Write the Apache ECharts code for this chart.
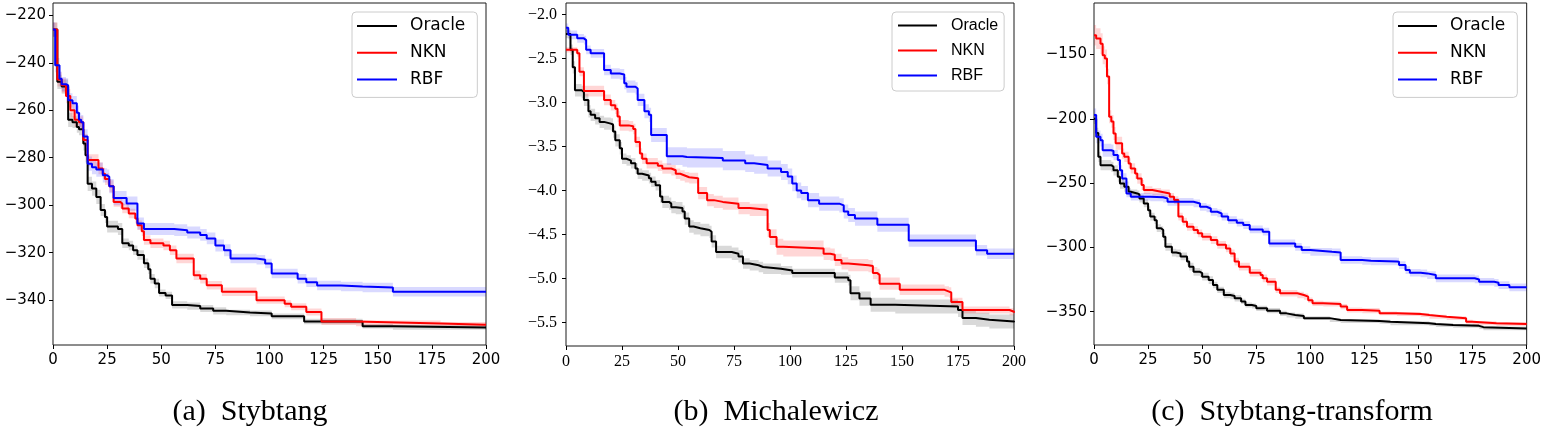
<!DOCTYPE html>
<html>
<head>
<meta charset="utf-8">
<script src="https://cdn.jsdelivr.net/npm/echarts@6/dist/echarts.min.js"></script>
<style>
html,body{margin:0;padding:0;background:#fff;}
#chart{width:1544px;height:430px;}
</style>
</head>
<body>
<div id="chart"></div>
<script>
// ---------- tick labels / categories ----------
const xTicks = [0, 25, 50, 75, 100, 125, 150, 175, 200];
const stybTicks = [-340, -320, -300, -280, -260, -240, -220];
const michTicks = [-5.5, -5.0, -4.5, -4.0, -3.5, -3.0, -2.5, -2.0];
const transTicks = [-350, -300, -250, -200, -150];
const seriesNames = ['Oracle', 'NKN', 'RBF'];
const captions = ['(a)  Stybtang', '(b)  Michalewicz', '(c)  Stybtang-transform'];

// ---------- data: [iteration, mean, half band width] (step-post) ----------
const stybOracle = [[0,-226,3],[2,-248,3],[4,-250,3],[7,-264,3],[9,-265,2.5],[11,-267,2.5],[12,-268,2.5],[14,-274,3],[15,-279,3],[16,-291,3],[18,-293,3],[20,-296.5,3],[22,-302,2.5],[24,-305,2.5],[25,-309,2.5],[30,-310,2.5],[32,-316,2],[35,-317,2],[37,-319,2],[39,-321,2],[42,-324.5,2],[44,-327,2],[45,-331,2],[47,-333,2],[49,-337,1.5],[52,-338,1.5],[55,-342,1.5],[62,-342.5,1.5],[68,-343.5,1.5],[74,-344.5,1.5],[80,-345.2,1.2],[91,-345.6,1.2],[101,-346.8,1.2],[116,-349,1.2],[143,-351,1],[157,-351.5,1],[200,-351.5,1]];
const stybNKN = [[0,-226,3],[2,-247,3],[4,-249.5,3],[6,-254,3],[8,-260,3],[10,-264,3],[12,-265,2.5],[14,-272.5,2.5],[16,-281,2.5],[21,-284.5,2.5],[23,-286.7,2.5],[24,-289,2.5],[26,-292,2.5],[28,-298.6,2],[31,-299.3,2],[32,-301.4,2],[35,-303.5,2],[38,-305.6,2],[39,-308.4,2],[41,-311,2],[42,-314.7,2],[45,-316,2],[51,-317,2],[54,-319,2],[57,-322.5,2],[65,-329.5,2],[68,-331,2],[71,-333.7,1.8],[78,-336.5,1.8],[94,-340,1.5],[107,-341.5,1.5],[110,-342.8,1.5],[117,-345,1.5],[124,-349,1.5],[140,-349.8,1.2],[179,-350.4,1.2],[200,-350.5,1.2]];
const stybRBF = [[0,-226,3],[1,-241,3],[3,-246.7,3],[4,-249,3],[6,-249.5,3],[7,-255.8,3],[9,-257,3],[11,-261,3],[12,-264,3],[13,-265,3],[14,-271,3],[16,-282.5,3],[18,-284,3],[20,-285,3],[23,-287.4,3],[25,-288,3],[26,-292,3],[28,-297,3],[34,-299.3,3],[39,-307.7,2.5],[42,-310,2.5],[56,-310.5,2.5],[62,-311.5,2.5],[68,-312.5,2.5],[71,-314,2.5],[75,-317,2.5],[79,-319,2.5],[82,-322.5,2],[94,-323,2],[98,-324.6,2],[101,-328.8,2],[113,-331,2],[117,-332.5,2],[122,-333.8,2],[133,-334.3,2],[143,-334.7,2],[157,-336.5,2],[200,-336.5,2]];

const michOracle = [[0,-2.22,0.05],[2,-2.4,0.06],[3,-2.6,0.07],[4,-2.86,0.07],[7,-2.88,0.07],[8,-2.97,0.07],[10,-3.1,0.07],[11,-3.14,0.07],[13,-3.18,0.07],[15,-3.22,0.07],[17,-3.24,0.07],[20,-3.25,0.07],[21,-3.33,0.07],[22,-3.43,0.07],[24,-3.52,0.07],[25,-3.64,0.06],[27,-3.66,0.06],[29,-3.69,0.06],[31,-3.75,0.06],[32,-3.81,0.06],[34,-3.83,0.06],[37,-3.86,0.06],[38,-3.9,0.06],[40,-3.94,0.06],[42,-4.07,0.07],[43,-4.13,0.07],[46,-4.15,0.07],[47,-4.19,0.07],[49,-4.2,0.07],[52,-4.24,0.07],[53,-4.32,0.07],[55,-4.41,0.07],[57,-4.43,0.07],[60,-4.45,0.07],[64,-4.47,0.07],[65,-4.58,0.07],[67,-4.7,0.07],[74,-4.72,0.07],[77,-4.75,0.07],[79,-4.83,0.06],[82,-4.85,0.06],[86,-4.87,0.06],[88,-4.89,0.06],[96,-4.91,0.05],[101,-4.94,0.05],[120,-4.99,0.06],[126,-5.02,0.06],[127,-5.17,0.08],[131,-5.23,0.08],[136,-5.3,0.08],[147,-5.32,0.08],[175,-5.36,0.08],[177,-5.45,0.08],[183,-5.47,0.08],[189,-5.49,0.08],[200,-5.5,0.08]];
const michNKN = [[0,-2.4,0.03],[5,-2.44,0.04],[6,-2.65,0.05],[8,-2.87,0.06],[17,-2.97,0.06],[20,-3.03,0.06],[22,-3.07,0.06],[23,-3.16,0.06],[24,-3.26,0.06],[28,-3.27,0.06],[30,-3.3,0.06],[31,-3.45,0.06],[33,-3.58,0.06],[34,-3.64,0.06],[36,-3.69,0.06],[41,-3.72,0.06],[43,-3.75,0.06],[47,-3.77,0.06],[49,-3.81,0.06],[51,-3.83,0.06],[53,-3.85,0.06],[55,-3.86,0.06],[59,-4.03,0.07],[63,-4.11,0.07],[66,-4.13,0.07],[70,-4.15,0.07],[77,-4.2,0.07],[82,-4.22,0.07],[90,-4.45,0.08],[91,-4.53,0.09],[94,-4.64,0.09],[97,-4.66,0.09],[115,-4.72,0.07],[118,-4.73,0.07],[120,-4.79,0.07],[123,-4.83,0.07],[126,-4.85,0.07],[135,-4.86,0.07],[137,-4.94,0.07],[139,-4.96,0.07],[140,-5.06,0.07],[149,-5.13,0.06],[169,-5.15,0.06],[171,-5.16,0.06],[172,-5.27,0.05],[177,-5.36,0.04],[198,-5.38,0.04],[200,-5.39,0.04]];
const michRBF = [[0,-2.15,0.05],[1,-2.23,0.05],[5,-2.27,0.05],[8,-2.29,0.05],[9,-2.4,0.05],[11,-2.44,0.05],[17,-2.63,0.06],[20,-2.67,0.06],[24,-2.68,0.06],[26,-2.78,0.07],[27,-2.82,0.07],[31,-2.84,0.07],[32,-2.97,0.07],[35,-3.1,0.08],[37,-3.14,0.08],[38,-3.37,0.08],[45,-3.61,0.1],[52,-3.62,0.11],[54,-3.63,0.11],[70,-3.66,0.11],[80,-3.69,0.1],[84,-3.71,0.1],[90,-3.75,0.09],[96,-3.79,0.09],[99,-3.84,0.09],[101,-3.92,0.09],[103,-4.0,0.09],[105,-4.03,0.08],[108,-4.11,0.08],[113,-4.15,0.08],[122,-4.17,0.08],[124,-4.24,0.08],[126,-4.28,0.08],[129,-4.32,0.08],[139,-4.39,0.08],[153,-4.57,0.07],[183,-4.68,0.06],[188,-4.72,0.06],[200,-4.72,0.06]];

const transOracle = [[0,-200,4],[1,-211,4],[2,-229.5,4],[3,-236,4],[8,-237.3,4],[9,-240,4],[11,-245,4],[12,-250.3,4],[14,-252.8,4],[16,-256.7,3],[17,-258,3],[20,-258.8,3],[21,-262,3],[23,-265.8,3],[25,-271,3],[26,-276,3],[28,-278.8,3],[29,-285,3],[31,-286.5,3],[32,-291.7,3],[33,-299.5,3],[36,-304,3],[38,-304.7,3],[40,-307,3],[43,-311,3],[44,-315,3],[46,-319,3],[49,-320,3],[50,-322.8,3],[53,-325.4,3],[55,-329.3,2.5],[57,-333,2.5],[60,-337,2.5],[63,-337.8,2.5],[65,-339.6,2.5],[68,-342,2],[70,-344.8,2],[73,-345.6,2],[75,-347.4,2],[80,-349.2,2],[86,-351.3,2],[89,-352.6,2],[93,-353.4,2],[97,-355,1.5],[109,-356.5,1.5],[114,-357.3,1.5],[132,-357.8,1.5],[137,-359,1.5],[155,-359.6,1.5],[158,-360.4,1.5],[166,-361,1.5],[178,-362,1.5],[180,-363,1.5],[200,-363.5,1.5]];
const transNKN = [[0,-135,8],[1,-137.6,8],[3,-141.5,8],[4,-150.5,7],[5,-153,7],[6,-167,6],[7,-198.4,5],[8,-202,5],[9,-211.4,5],[10,-219,5],[13,-227,4],[14,-229.5,4],[16,-234.7,4],[17,-238.6,4],[19,-242.5,4],[20,-246.4,4],[22,-251.5,4],[23,-255.4,3],[27,-256.7,3],[31,-258,3],[35,-260.6,3],[37,-263.2,3],[39,-276,3],[41,-280,3],[43,-284,3],[46,-286.5,3],[48,-289,3],[50,-291.7,3],[54,-294.3,3],[57,-298,3],[61,-300.8,3],[63,-304.7,3],[65,-311,3],[67,-315,3],[72,-319.7,3],[77,-321.5,3],[78,-324,3],[80,-326.7,3],[84,-333,2.5],[86,-335.7,2.5],[94,-337,2.5],[97,-338.3,2.5],[99,-341,2],[101,-343.5,2],[106,-344,2],[114,-346,2],[117,-348.7,2],[124,-349.2,2],[132,-351.3,1.5],[140,-351.8,1.5],[151,-352.6,1.5],[155,-353.9,1.5],[163,-355,1.5],[172,-357.8,1.5],[175,-359,1.5],[186,-359.6,1.5],[200,-360,1.5]];
const transRBF = [[0,-197,5],[1,-214,5],[3,-216.6,5],[4,-224.4,5],[8,-225,5],[9,-228.2,4],[11,-232,4],[12,-240,4],[13,-246.4,4],[15,-258,3],[17,-260.6,3],[26,-261,3],[32,-262,3],[34,-264.5,3],[46,-265.8,3],[49,-268.4,3],[52,-269.7,3],[54,-272.3,3],[57,-273.6,3],[59,-276,3],[62,-278.8,3],[66,-280.8,3],[69,-282.6,3],[72,-286,3],[78,-287.8,3],[81,-296.9,3],[93,-299.5,3],[96,-302,3],[100,-303.4,3],[110,-303.9,3],[114,-309.8,3],[124,-310.4,3],[128,-310.9,3],[140,-311.1,3],[141,-313.7,3],[144,-317.6,3],[146,-319.7,3],[151,-320.2,3],[154,-321.5,3],[158,-324,3],[176,-324.9,3],[178,-326.7,3],[185,-327.5,3],[187,-329.3,3],[192,-331,3],[200,-331.5,3]];

// ---------- styling / layout ----------
const lineColors = ['#000000', '#ff0000', '#0000ff'];
const bandColors = ['rgba(0,0,0,0.15)', 'rgba(255,0,0,0.16)', 'rgba(0,0,255,0.15)'];
const panels = [
  {data: [stybOracle, stybNKN, stybRBF], ticks: stybTicks, min: -358.9, max: -214.8, dec: 0,
   grid: {left: 53, top: 3, width: 433, height: 342}, font: 'DejaVu Sans', fsize: 15, ymargin: 7, xmargin: 8,
   legend: {left: 352, top: 12, font: 'DejaVu Sans', fsize: 17, lh: 20, gap: 6.7, padding: [4, 12, 8, 5], iw: 40, tp: 8},
   cap: {x: 250, y: 412}},
  {data: [michOracle, michNKN, michRBF], ticks: michTicks, min: -5.769, max: -1.868, dec: 1,
   grid: {left: 566, top: 3, width: 448, height: 343}, font: 'Liberation Serif', fsize: 16, ymargin: 9, xmargin: 8,
   legend: {left: 892, top: 12, font: 'Liberation Sans', fsize: 16, lh: 19, gap: 6, padding: [4, 6, 6, 6], iw: 39, tp: 9},
   cap: {x: 776, y: 412}},
  {data: [transOracle, transNKN, transRBF], ticks: transTicks, min: -375.9, max: -109.9, dec: 0,
   grid: {left: 1094, top: 3, width: 433, height: 342}, font: 'DejaVu Sans', fsize: 15, ymargin: 7, xmargin: 8,
   legend: {left: 1393, top: 12, font: 'DejaVu Sans', fsize: 17, lh: 20, gap: 6.7, padding: [4, 12, 8, 5], iw: 39, tp: 8},
   cap: {x: 1292, y: 412}}
];

const fmt = (v, dec) => (dec ? Number(v).toFixed(dec) : String(v)).replace('-', '\u2212');

function bandSeries(gi, pts, fill) {
  return {
    type: 'custom', xAxisIndex: gi, yAxisIndex: gi, silent: true, z: 1, clip: true,
    data: [[pts[0][0], pts[0][1]]],
    renderItem: function (params, api) {
      const up = [], lo = [];
      for (let i = 0; i < pts.length; i++) {
        const x0 = pts[i][0];
        const x1 = i + 1 < pts.length ? pts[i + 1][0] : pts[i][0];
        const yu = pts[i][1] + pts[i][2], yl = pts[i][1] - pts[i][2];
        up.push(api.coord([x0, yu]), api.coord([x1, yu]));
        lo.push(api.coord([x0, yl]), api.coord([x1, yl]));
      }
      return {type: 'polygon', shape: {points: up.concat(lo.reverse())}, style: {fill: fill}};
    }
  };
}

const grids = [], xAxes = [], yAxes = [], series = [], legends = [], graphics = [];
panels.forEach((p, gi) => {
  grids.push(Object.assign({show: true, borderColor: '#1a1a1a', borderWidth: 1, backgroundColor: 'transparent'}, p.grid));
  const lab = {fontFamily: p.font, fontSize: p.fsize, color: '#000'};
  xAxes.push({
    type: 'value', gridIndex: gi, min: 0, max: 200, interval: 25,
    axisLine: {show: false},
    axisTick: {show: true, length: 4, customValues: xTicks, lineStyle: {color: '#000', width: 1}},
    axisLabel: Object.assign({margin: p.xmargin, customValues: xTicks, formatter: v => fmt(v, 0)}, lab),
    splitLine: {show: false}
  });
  yAxes.push({
    type: 'value', gridIndex: gi, min: p.min, max: p.max,
    axisLine: {show: false},
    axisTick: {show: true, length: 4, customValues: p.ticks, lineStyle: {color: '#000', width: 1}},
    axisLabel: Object.assign({margin: p.ymargin, customValues: p.ticks, formatter: v => fmt(v, p.dec)}, lab),
    splitLine: {show: false}
  });
  p.data.forEach((pts, si) => series.push(bandSeries(gi, pts, bandColors[si])));
  p.data.forEach((pts, si) => {
    series.push({
      name: seriesNames[si], type: 'line', xAxisIndex: gi, yAxisIndex: gi,
      data: pts.map(q => [q[0], q[1]]), step: 'end', symbol: 'none', z: 2,
      lineStyle: {color: lineColors[si], width: 2}, itemStyle: {color: lineColors[si]}
    });
  });
  const L = p.legend;
  legends.push({
    orient: 'vertical', left: L.left, top: L.top, padding: L.padding, itemGap: L.gap,
    itemWidth: L.iw, itemHeight: 2, icon: 'rect', selectedMode: false,
    backgroundColor: 'rgba(255,255,255,0.8)', borderColor: '#cccccc', borderWidth: 1, borderRadius: 4,
    data: seriesNames.map(n => ({name: n})),
    textStyle: {fontFamily: L.font, fontSize: L.fsize, color: '#000', lineHeight: L.lh, padding: [0, 0, 0, L.tp]}
  });
  graphics.push({
    type: 'text', x: p.cap.x, y: p.cap.y, silent: true,
    style: {text: captions[gi], font: '30px "Liberation Serif"', fill: '#000',
            align: 'center', verticalAlign: 'middle', textAlign: 'center', textVerticalAlign: 'middle'}
  });
});

const chart = echarts.init(document.getElementById('chart'), null, {renderer: 'canvas'});
chart.setOption({
  animation: false,
  backgroundColor: '#fff',
  grid: grids, xAxis: xAxes, yAxis: yAxes, series: series, legend: legends, graphic: graphics
});
</script>
</body>
</html>
